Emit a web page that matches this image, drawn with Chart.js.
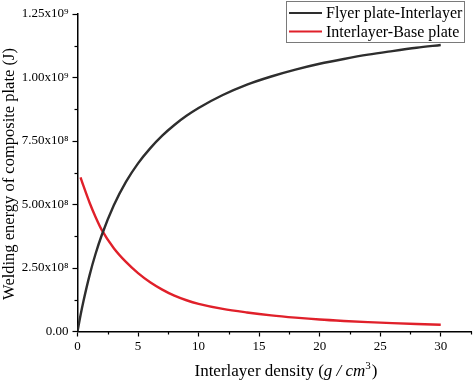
<!DOCTYPE html>
<html>
<head>
<meta charset="utf-8">
<script src="https://cdn.jsdelivr.net/npm/chart.js@4.4.1/dist/chart.umd.min.js"></script>
<style>
  html, body { margin: 0; padding: 0; background: #fff; }
  #wrap { width: 474px; height: 382px; position: relative; }
</style>
</head>
<body>
<div id="wrap"><canvas id="c" width="474" height="382"></canvas></div>
<script>
// ---- Data (values in units of 10^8 J) ----
const seriesNames = ['Flyer plate-Interlayer', 'Interlayer-Base plate'];
const flyerX = [0, 0.25, 0.5, 1, 1.5, 2, 3, 4, 5, 6, 7, 8, 9, 10, 12, 14, 16, 18, 20, 22, 24, 26, 28, 30];
const flyerE8 = [0, 0.64, 1.21, 2.22, 3.07, 3.79, 4.97, 5.89, 6.62, 7.21, 7.71, 8.13, 8.49, 8.80, 9.31, 9.72, 10.04, 10.31, 10.54, 10.73, 10.90, 11.04, 11.17, 11.28];
const baseX = [0.25, 0.5, 1, 1.5, 2, 3, 4, 5, 6, 7, 8, 9, 10, 12, 14, 16, 18, 20, 22, 24, 26, 28, 30];
const baseE8 = [6.07, 5.72, 5.07, 4.50, 4.00, 3.28, 2.74, 2.30, 1.94, 1.65, 1.41, 1.23, 1.09, 0.89, 0.75, 0.635, 0.545, 0.47, 0.415, 0.37, 0.33, 0.295, 0.265];
const yTickValues = [0, 2.5e8, 5e8, 7.5e8, 10e8, 12.5e8];
const yTickLabels = ['0.00', '2.50x10\u2078', '5.00x10\u2078', '7.50x10\u2078', '1.00x10\u2079', '1.25x10\u2079'];
const xTickValues = [0, 5, 10, 15, 20, 25, 30];
const xTickLabels = ['0', '5', '10', '15', '20', '25', '30'];
const yTitle = 'Welding energy of composite plate (J)';
const xTitleParts = [['Interlayer density (', 'normal'], ['g / cm', 'italic'], ['3', 'sup'], [')', 'normal']];

const colors = ['#2e2e2e', '#e0202a'];
const FONT = '"Liberation Serif", "Times New Roman", serif';

const toPts = (xs, ys) => xs.map((x, i) => ({ x: x, y: ys[i] * 1e8 }));

const overlay = {
  id: 'overlay',
  afterDraw(chart) {
    const ctx = chart.ctx;
    const xs = chart.scales.x, ys = chart.scales.y;
    ctx.save();
    // minor ticks
    ctx.strokeStyle = '#000';
    ctx.lineWidth = 1.2;
    for (let v = 1.25e8; v < 12.5e8; v += 2.5e8) {
      const py = Math.round(ys.getPixelForValue(v)) + 0.5;
      ctx.beginPath(); ctx.moveTo(xs.left - 3, py); ctx.lineTo(xs.left, py); ctx.stroke();
    }
    for (let v = 2.5; v <= 32.5; v += 5) {
      const px = Math.round(xs.getPixelForValue(v)) + 0.5;
      ctx.beginPath(); ctx.moveTo(px, ys.bottom); ctx.lineTo(px, ys.bottom + 3); ctx.stroke();
    }
    // y title
    ctx.fillStyle = '#000';
    ctx.font = '16.5px ' + FONT;
    ctx.textAlign = 'center';
    ctx.textBaseline = 'middle';
    ctx.translate(10, 174);
    ctx.rotate(-Math.PI / 2);
    ctx.fillText(yTitle, 0, 0);
    ctx.restore();

    // x title with italic parts
    ctx.save();
    ctx.fillStyle = '#000';
    ctx.textBaseline = 'alphabetic';
    const fontFor = (s) => s === 'italic' ? 'italic 17px ' + FONT : (s === 'sup' ? '11px ' + FONT : '17px ' + FONT);
    let total = 0;
    xTitleParts.forEach(([t, s]) => { ctx.font = fontFor(s); total += ctx.measureText(t).width + (s === 'sup' ? 1 : 0); });
    let x = 286 - total / 2;
    const base = 376;
    ctx.textAlign = 'left';
    xTitleParts.forEach(([t, s]) => {
      ctx.font = fontFor(s);
      ctx.fillText(t, x, s === 'sup' ? base - 7 : base);
      x += ctx.measureText(t).width + (s === 'sup' ? 1 : 0);
    });
    ctx.restore();

    // legend box
    ctx.save();
    const bx = 286.5, by = 1.5, bw = 178, bh = 41;
    ctx.fillStyle = '#fff';
    ctx.fillRect(bx, by, bw, bh);
    ctx.strokeStyle = '#7a7a7a';
    ctx.lineWidth = 1;
    ctx.strokeRect(bx, by, bw, bh);
    ctx.font = '16px ' + FONT;
    ctx.textBaseline = 'middle';
    ctx.textAlign = 'left';
    chart.data.datasets.forEach((ds, i) => {
      const ly = 13 + i * 18.5;
      ctx.strokeStyle = ds.borderColor;
      ctx.lineWidth = 2;
      ctx.beginPath(); ctx.moveTo(289, ly); ctx.lineTo(322, ly); ctx.stroke();
      ctx.fillStyle = '#000';
      ctx.fillText(ds.label, 326, ly + 1);
    });
    ctx.restore();
  }
};

new Chart(document.getElementById('c'), {
  type: 'line',
  data: {
    datasets: [
      { label: seriesNames[0], data: toPts(flyerX, flyerE8), borderColor: colors[0], borderWidth: 2.4, pointRadius: 0, cubicInterpolationMode: 'monotone', fill: false },
      { label: seriesNames[1], data: toPts(baseX, baseE8), borderColor: colors[1], borderWidth: 2.4, pointRadius: 0, cubicInterpolationMode: 'monotone', fill: false }
    ]
  },
  options: {
    responsive: false,
    animation: false,
    layout: { padding: { left: 0, top: 14, right: 3, bottom: 0 } },
    plugins: { legend: { display: false }, tooltip: { enabled: false } },
    scales: {
      x: {
        type: 'linear', min: 0, max: 32.5,
        afterFit(s) { s.height = 50.5; },
        afterBuildTicks(s) { s.ticks = [0, 2.5, 5, 7.5, 10, 12.5, 15, 17.5, 20, 22.5, 25, 27.5, 30, 32.5].map(v => ({ value: v })); },
        border: { color: '#000', width: 1.5 },
        grid: { drawOnChartArea: false, drawTicks: true, tickLength: 5, tickWidth: 1.2,
          tickColor: (c) => (c.tick && xTickValues.includes(c.tick.value)) ? '#000' : 'rgba(0,0,0,0)' },
        ticks: {
          color: '#000', font: { family: FONT, size: 13 }, padding: 2, maxRotation: 0, autoSkip: false,
          callback: (v) => { const i = xTickValues.indexOf(v); return i >= 0 ? xTickLabels[i] : ''; }
        }
      },
      y: {
        type: 'linear', min: 0, max: 12.5e8,
        afterFit(s) { s.width = 77.5; },
        afterBuildTicks(s) { s.ticks = yTickValues.map(v => ({ value: v })); },
        border: { color: '#000', width: 1.5 },
        grid: { drawOnChartArea: false, drawTicks: true, tickLength: 5, tickWidth: 1.2, tickColor: '#000' },
        ticks: {
          color: '#000', font: { family: FONT, size: 13 }, padding: 4,
          callback: (v) => { const i = yTickValues.indexOf(v); return i >= 0 ? yTickLabels[i] : ''; }
        }
      }
    }
  },
  plugins: [overlay]
});
</script>
</body>
</html>
